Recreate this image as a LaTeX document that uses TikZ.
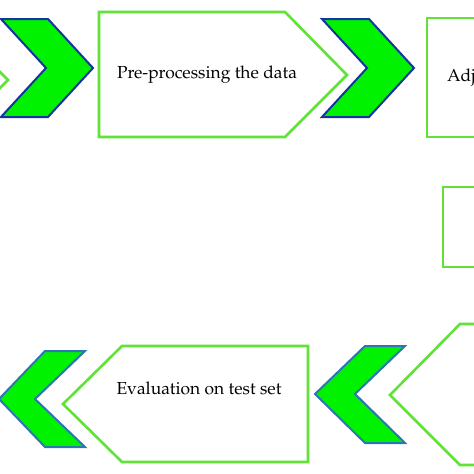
\documentclass[tikz,border=0pt]{standalone}
\usepackage[T1]{fontenc}
\usepackage{mathpazo}
\usepackage{tikz}
\usetikzlibrary{positioning}
\definecolor{boxgreen}{RGB}{96,226,56}
\definecolor{chevgreen}{RGB}{0,242,0}
\definecolor{darkblue}{RGB}{20,52,160}
\definecolor{steelblue}{RGB}{46,117,182}

\begin{document}
\begin{tikzpicture}[x=1pt,y=-1pt]
		\tikzstyle{stage}=[draw=boxgreen, line width=2.6pt, fill=white, line join=miter];
		\tikzstyle{chevron}=[fill=chevgreen, line width=2pt, line join=miter];
		\tikzstyle{every node}=[font=\fontsize{17.4}{20}\selectfont, inner sep=0pt];
		\useasboundingbox (0,0) rectangle (474,474);
		\clip (0,0) rectangle (474,474);
		% top row
		\draw[stage] (-120,32) -- (-40,32) -- (8,80) -- (-40,128) -- (-120,128);
		\draw[chevron, draw=darkblue] (1,19) -- (48,19) -- (93,68) -- (48,117) -- (1,117) -- (46,68) -- cycle;
		\draw[stage] (99,12) -- (285,12) -- (347,75) -- (285,137) -- (99,137) -- cycle;
		\draw[chevron, draw=darkblue] (322,19) -- (369,19) -- (414,68) -- (369,117) -- (322,117) -- (367,68) -- cycle;
		\draw[stage] (427,18) rectangle (530,137);
		% middle
		\draw[stage] (443,187) rectangle (530,267);
		% bottom row
		\draw[stage] (530,324) -- (460,324) -- (390,395) -- (460,465) -- (530,465);
		\draw[chevron, draw=steelblue] (405,346) -- (365,346) -- (315,394) -- (365,443) -- (405,443) -- (355,394) -- cycle;
		\draw[stage] (308,346) -- (122,346) -- (63,404) -- (122,462) -- (308,462) -- cycle;
		\draw[chevron, draw=steelblue] (85,351) -- (45,351) -- (-1,399) -- (45,447) -- (85,447) -- (35,399) -- cycle;
		% labels
		\path (207,75) node (prep) {Pre-processing the data};
		\path (447,78) node[anchor=west] (adj) {Adj};
		\path (199,388) node (eval) {Evaluation on test set};
\end{tikzpicture}
\end{document}
